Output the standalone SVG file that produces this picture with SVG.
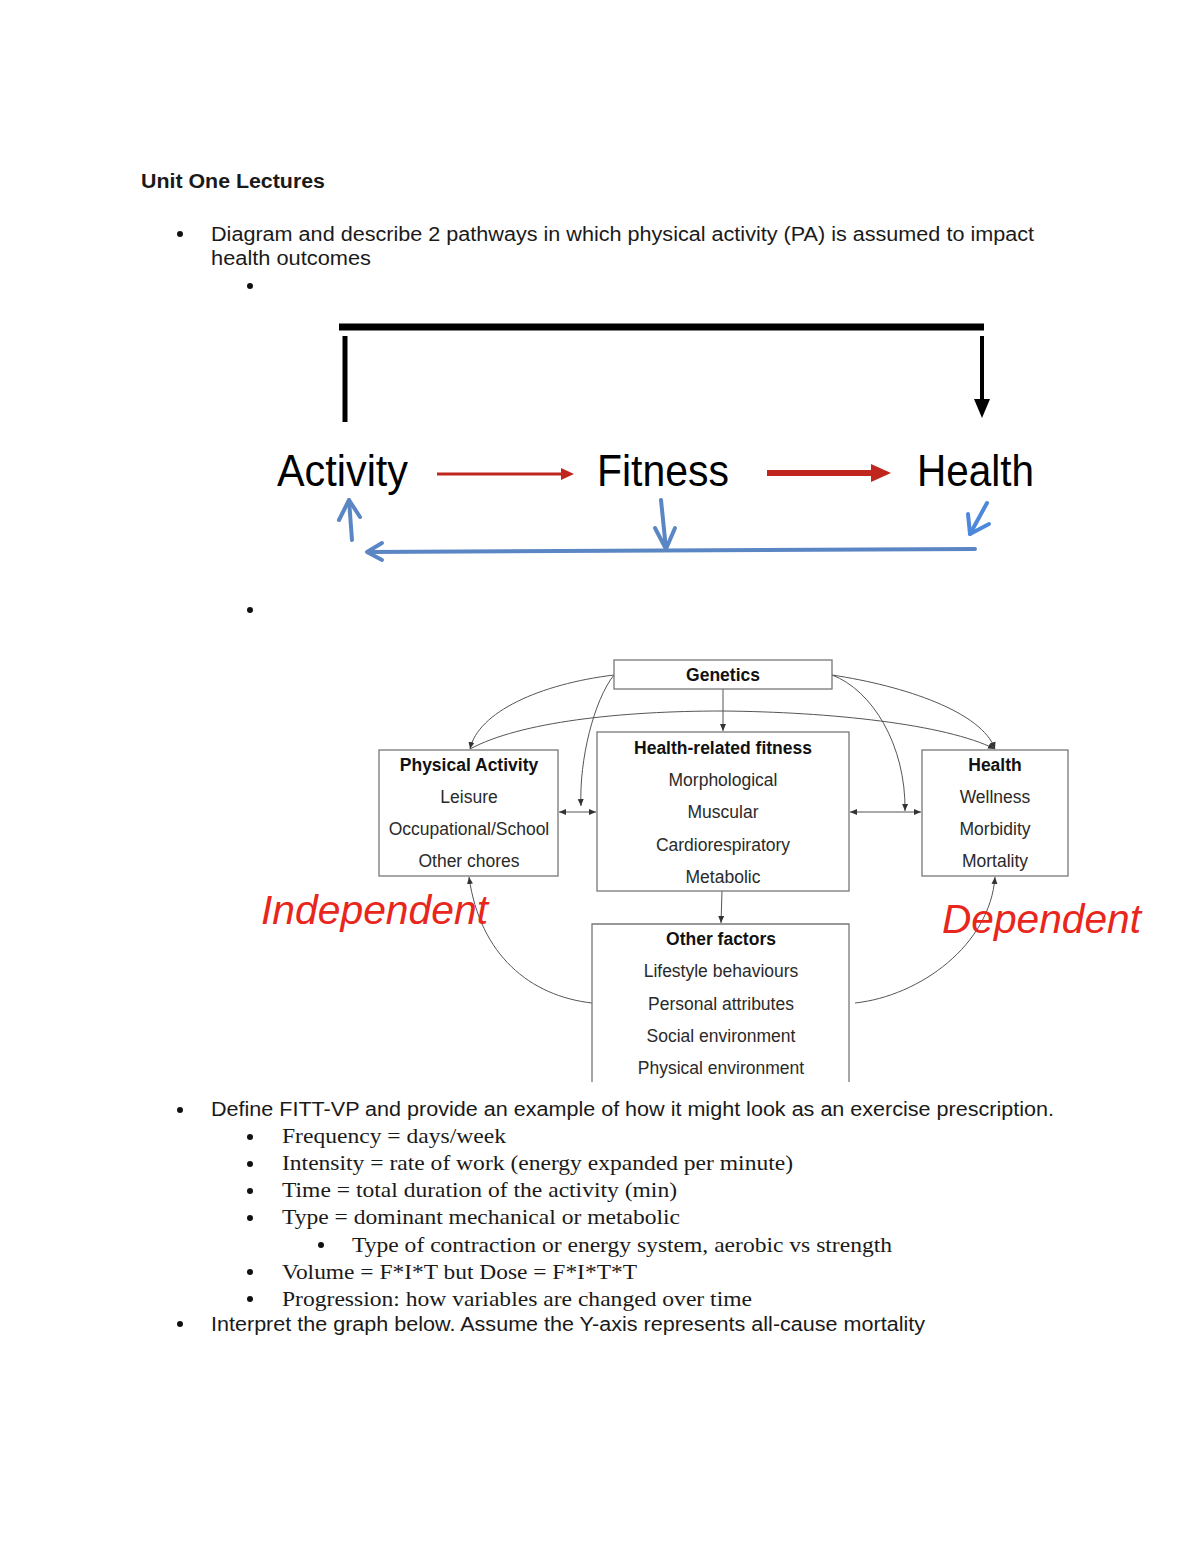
<svg xmlns="http://www.w3.org/2000/svg" width="1200" height="1553" viewBox="0 0 1200 1553">
<defs>
<style>
.sans{font-family:"Liberation Sans",Arial,sans-serif;fill:#1a1a1a;font-size:20px}
.serif{font-family:"Liberation Serif","Times New Roman",serif;fill:#1a1a1a;font-size:21px}
.big{font-family:"Liberation Sans",Arial,sans-serif;fill:#000;font-size:44px}
.box{fill:#fff;stroke:#777;stroke-width:1.3}
.bt{font-family:"Liberation Sans",Arial,sans-serif;fill:#2a2a2a;font-size:17.5px;text-anchor:middle}
.bh{font-weight:bold;fill:#111}
.con{fill:none;stroke:#555;stroke-width:1}
.red{font-family:"Liberation Sans",Arial,sans-serif;fill:#e8261c;font-size:40px;font-style:italic}
.blue{fill:none;stroke:#5b86c4;stroke-width:4;stroke-linecap:round;stroke-linejoin:round}
.dot{fill:#111}
</style>
<marker id="ah" markerWidth="8" markerHeight="8" refX="7" refY="4" orient="auto" markerUnits="userSpaceOnUse">
<path d="M0,1 L7,4 L0,7 z" fill="#333"/>
</marker>
<marker id="as" markerWidth="8" markerHeight="8" refX="1" refY="4" orient="auto" markerUnits="userSpaceOnUse">
<path d="M8,1 L1,4 L8,7 z" fill="#333"/>
</marker>
</defs>
<rect width="1200" height="1553" fill="#fff"/>

<text class="sans" x="141" y="188" font-weight="bold" textLength="184" lengthAdjust="spacingAndGlyphs">Unit One Lectures</text>
<circle class="dot" cx="180" cy="234" r="3"/>
<text class="sans" x="211" y="241" textLength="823" lengthAdjust="spacingAndGlyphs">Diagram and describe 2 pathways in which physical activity (PA) is assumed to impact</text>
<text class="sans" x="211" y="265" textLength="160" lengthAdjust="spacingAndGlyphs">health outcomes</text>
<circle class="dot" cx="250" cy="286" r="3"/>

<g id="diagram1">
<g id="connectors1">
<line x1="339" y1="327" x2="984" y2="327" stroke="#000" stroke-width="7"/>
<line x1="345" y1="336" x2="345" y2="422" stroke="#000" stroke-width="5"/>
<line x1="982" y1="336" x2="982" y2="402" stroke="#000" stroke-width="4"/>
<path d="M974,399 L990,399 L982,418 z" fill="#000"/>
<line x1="437" y1="474" x2="563" y2="474" stroke="#c0261e" stroke-width="3"/>
<path d="M561,468 L574,474 L561,480 z" fill="#c0261e"/>
<line x1="767" y1="473" x2="874" y2="473" stroke="#c0261e" stroke-width="6"/>
<path d="M871,464 L891,473 L871,482 z" fill="#c0261e"/>
<polyline class="blue" points="975,549 368,552"/>
<polyline class="blue" points="382,543 367,552 382,560"/>
<polyline class="blue" points="352,540 349,500"/>
<polyline class="blue" points="339,520 349,500 360,517"/>
<polyline class="blue" points="661,500 666,549"/>
<polyline class="blue" points="655,528 666,549 675,528"/>
<polyline class="blue" points="987,503 970,534" style="stroke:#4e88da"/>
<polyline class="blue" points="968,514 970,534 989,524" style="stroke:#4e88da"/>
</g>
<g id="n-activity"><text class="big" x="277" y="486" textLength="131" lengthAdjust="spacingAndGlyphs">Activity</text></g>
<g id="n-fitness"><text class="big" x="597" y="486" textLength="132" lengthAdjust="spacingAndGlyphs">Fitness</text></g>
<g id="n-health"><text class="big" x="917" y="486" textLength="117" lengthAdjust="spacingAndGlyphs">Health</text></g>
</g>

<circle class="dot" cx="250" cy="610" r="3"/>

<g id="diagram2">
<g id="connectors2">
<path class="con" d="M614,675 C540,684 478,712 470,749" marker-end="url(#ah)"/>
<path class="con" d="M614,675 C594,700 579,760 581,806" marker-end="url(#ah)"/>
<path class="con" d="M832,675 C905,686 982,712 995,749" marker-end="url(#ah)"/>
<path class="con" d="M832,675 C872,690 906,745 905,811" marker-end="url(#ah)"/>
<path class="con" d="M470,749 C520,722 620,711 723,711 C830,712 945,724 995,749" marker-end="url(#ah)"/>
<line class="con" x1="723" y1="689" x2="723" y2="731" marker-end="url(#ah)"/>
<line class="con" x1="722" y1="891" x2="721" y2="923" marker-end="url(#ah)"/>
<line class="con" x1="559" y1="812" x2="596" y2="812" marker-start="url(#as)" marker-end="url(#ah)"/>
<line class="con" x1="850" y1="812" x2="921" y2="812" marker-start="url(#as)" marker-end="url(#ah)"/>
<path class="con" d="M592,1003 C530,996 480,955 469,877" marker-end="url(#ah)"/>
<path class="con" d="M855,1003 C920,996 990,945 995,877" marker-end="url(#ah)"/>
</g>
<g id="n-genetics">
<rect class="box" x="614" y="660" width="218" height="29"/>
<text class="bt bh" x="723" y="681">Genetics</text>
</g>
<g id="n-pa">
<rect class="box" x="379" y="750" width="179" height="126"/>
<text class="bt bh" x="469" y="771">Physical Activity</text>
<text class="bt" x="469" y="803">Leisure</text>
<text class="bt" x="469" y="835">Occupational/School</text>
<text class="bt" x="469" y="867">Other chores</text>
</g>
<g id="n-hrf">
<rect class="box" x="597" y="732" width="252" height="159"/>
<text class="bt bh" x="723" y="754">Health-related fitness</text>
<text class="bt" x="723" y="786">Morphological</text>
<text class="bt" x="723" y="818">Muscular</text>
<text class="bt" x="723" y="851">Cardiorespiratory</text>
<text class="bt" x="723" y="883">Metabolic</text>
</g>
<g id="n-health2">
<rect class="box" x="922" y="750" width="146" height="126"/>
<text class="bt bh" x="995" y="771">Health</text>
<text class="bt" x="995" y="803">Wellness</text>
<text class="bt" x="995" y="835">Morbidity</text>
<text class="bt" x="995" y="867">Mortality</text>
</g>
<g id="n-other">
<path class="box" d="M592,1082 L592,924 L849,924 L849,1082" />
<text class="bt bh" x="721" y="945">Other factors</text>
<text class="bt" x="721" y="977">Lifestyle behaviours</text>
<text class="bt" x="721" y="1010">Personal attributes</text>
<text class="bt" x="721" y="1042">Social environment</text>
<text class="bt" x="721" y="1074">Physical environment</text>
</g>
<text class="red" x="261" y="924" textLength="227" lengthAdjust="spacingAndGlyphs">Independent</text>
<text class="red" x="942" y="933" textLength="199" lengthAdjust="spacingAndGlyphs">Dependent</text>
</g>

<circle class="dot" cx="180" cy="1110" r="3"/>
<text class="sans" x="211" y="1116" textLength="843" lengthAdjust="spacingAndGlyphs">Define FITT-VP and provide an example of how it might look as an exercise prescription.</text>
<circle class="dot" cx="250" cy="1137" r="3"/>
<text class="serif" x="282" y="1143" textLength="224" lengthAdjust="spacingAndGlyphs">Frequency = days/week</text>
<circle class="dot" cx="250" cy="1164" r="3"/>
<text class="serif" x="282" y="1170" textLength="511" lengthAdjust="spacingAndGlyphs">Intensity = rate of work (energy expanded per minute)</text>
<circle class="dot" cx="250" cy="1191" r="3"/>
<text class="serif" x="282" y="1197" textLength="395" lengthAdjust="spacingAndGlyphs">Time = total duration of the activity (min)</text>
<circle class="dot" cx="250" cy="1218" r="3"/>
<text class="serif" x="282" y="1224" textLength="398" lengthAdjust="spacingAndGlyphs">Type = dominant mechanical or metabolic</text>
<circle class="dot" cx="321" cy="1245" r="3"/>
<text class="serif" x="352" y="1252" textLength="540" lengthAdjust="spacingAndGlyphs">Type of contraction or energy system, aerobic vs strength</text>
<circle class="dot" cx="250" cy="1272" r="3"/>
<text class="serif" x="282" y="1279" textLength="355" lengthAdjust="spacingAndGlyphs">Volume = F*I*T but Dose = F*I*T*T</text>
<circle class="dot" cx="250" cy="1299" r="3"/>
<text class="serif" x="282" y="1306" textLength="470" lengthAdjust="spacingAndGlyphs">Progression: how variables are changed over time</text>
<circle class="dot" cx="180" cy="1324" r="3"/>
<text class="sans" x="211" y="1331" textLength="714" lengthAdjust="spacingAndGlyphs">Interpret the graph below. Assume the Y-axis represents all-cause mortality</text>
</svg>
